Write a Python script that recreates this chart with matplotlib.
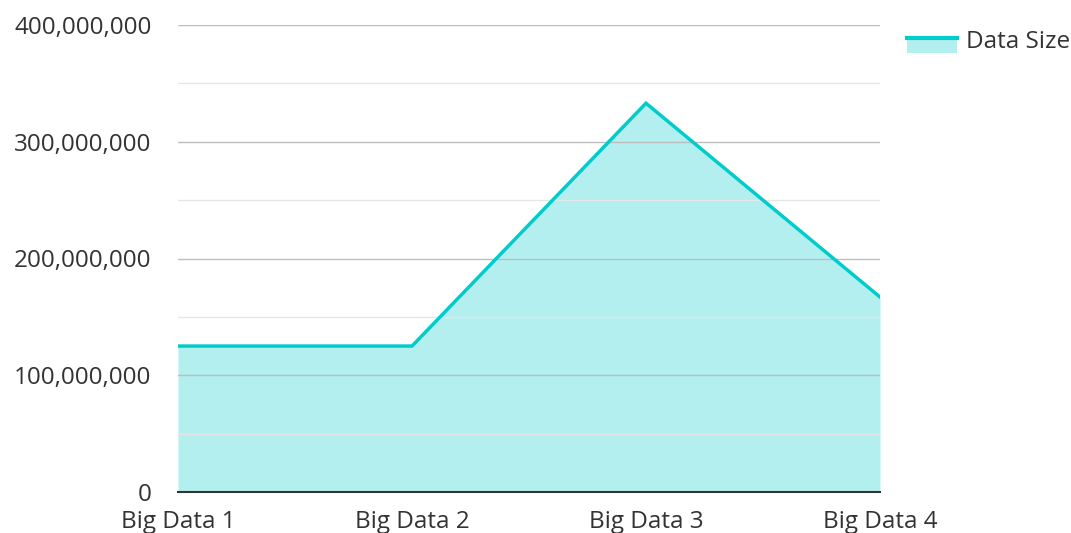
import matplotlib
matplotlib.use("Agg")
import matplotlib.pyplot as plt
from matplotlib.ticker import FuncFormatter, MultipleLocator
from matplotlib.lines import Line2D
from matplotlib.patches import Rectangle
from matplotlib.legend_handler import HandlerBase

categories = ["Big Data 1", "Big Data 2", "Big Data 3", "Big Data 4"]
values = [125_000_000, 125_000_000, 333_000_000, 167_000_000]
series_name = "Data Size"

plt.rcParams['font.family'] = ['Open Sans', 'DejaVu Sans']
text_color = '#333333'
line_color = '#00cccc'
fill_color = '#b2efee'

fig = plt.figure(figsize=(10.71, 5.33), dpi=100)
ax = fig.add_axes([178/1071, 41/533, (880-178)/1071, (492-25)/533])

x = list(range(len(categories)))
ax.fill_between(x, values, 0, color=fill_color, linewidth=0, zorder=2)
ax.plot(x, values, color=line_color, linewidth=2.5, zorder=3, solid_joinstyle='miter')

ax.set_xlim(0, len(categories) - 1)
ax.set_ylim(0, 400_000_000)
ax.yaxis.set_major_locator(MultipleLocator(100_000_000))
ax.yaxis.set_minor_locator(MultipleLocator(50_000_000))
ax.yaxis.set_major_formatter(FuncFormatter(lambda v, p: f"{int(v):,}"))
ax.grid(True, which='major', axis='y', color='#bdbdbd', linewidth=1, zorder=4)
ax.grid(True, which='minor', axis='y', color='#e6e6e6', linewidth=1, zorder=4)
ax.set_axisbelow(False)
for s in ['top', 'right', 'left']:
    ax.spines[s].set_visible(False)
ax.spines['bottom'].set_color('#333333')
ax.spines['bottom'].set_linewidth(1.5)
ax.spines['bottom'].set_zorder(5)

ax.set_xticks(x)
ax.set_xticklabels(categories)
ax.tick_params(axis='both', which='both', length=0, labelsize=17.5, colors=text_color)
ax.tick_params(axis='x', pad=13)
ax.tick_params(axis='y', pad=19)


class AreaHandler(HandlerBase):
    def create_artists(self, legend, orig_handle, xdescent, ydescent, width, height, fontsize, trans):
        rect = Rectangle((-xdescent, -ydescent - 0.25 * height), width, 0.85 * height,
                         facecolor=fill_color, edgecolor='none', transform=trans)
        line = Line2D([-xdescent, -xdescent + width], [-ydescent + 0.6 * height] * 2,
                      color=line_color, linewidth=3, transform=trans)
        return [rect, line]


proxy = Rectangle((0, 0), 1, 1)
leg = fig.legend([proxy], [series_name], loc='upper left', bbox_to_anchor=(885/1071, 1 - 8/533),
                 frameon=False, fontsize=17.5, handlelength=2.05, handleheight=0.8, handletextpad=0.4,
                 handler_map={Rectangle: AreaHandler()})
for t in leg.get_texts():
    t.set_color(text_color)

fig.savefig("out.png", dpi=100)
